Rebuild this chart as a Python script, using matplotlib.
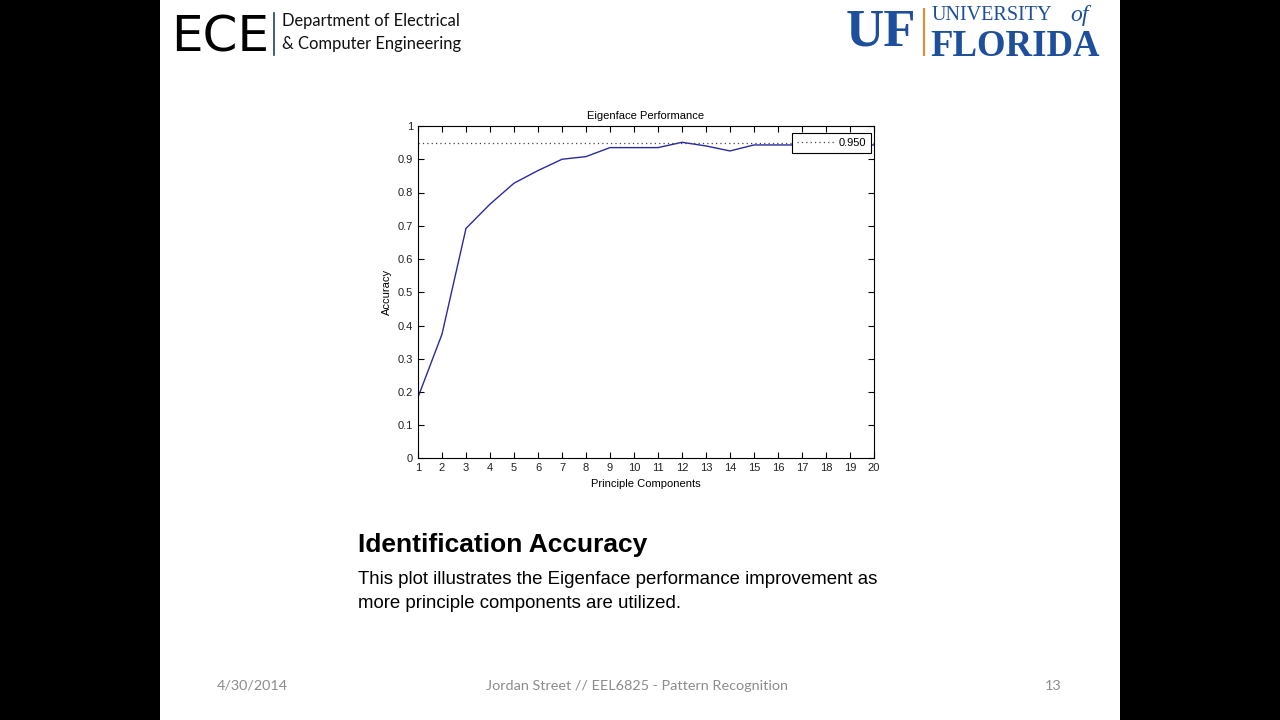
"""
Eigenface performance slide - accuracy vs number of principal components
"""

import matplotlib.pyplot as plt
import numpy as np
from matplotlib.patches import Rectangle

# data
components = [1, 2, 3, 4, 5, 6, 7, 8, 9, 10, 11, 12, 13, 14, 15, 16, 17, 18, 19, 20]
accuracy = [0.184, 0.374, 0.692, 0.765, 0.828, 0.866, 0.900, 0.908, 0.935, 0.935,
            0.935, 0.951, 0.940, 0.925, 0.943, 0.943, 0.943, 0.943, 0.943, 0.943]
threshold = 0.950
y_ticks = [0, 0.1, 0.2, 0.3, 0.4, 0.5, 0.6, 0.7, 0.8, 0.9, 1]
y_tick_labels = ['0', '0.1', '0.2', '0.3', '0.4', '0.5', '0.6', '0.7', '0.8', '0.9', '1']

W, H = 1280, 720
fig = plt.figure(figsize=(12.8, 7.2), dpi=100, facecolor='black')

# white slide area
bg = fig.add_axes([0, 0, 1, 1])
bg.set_xlim(0, W)
bg.set_ylim(H, 0)
bg.axis('off')
bg.add_patch(Rectangle((160, 0), 960, 720, facecolor='white', edgecolor='none'))

# ECE logo
bg.text(171, 37, 'ECE', fontsize=36, family='DejaVu Sans',
        color='black', ha='left', va='center')
bg.plot([274, 274], [13, 55], color='#1e3f5f', lw=1.2)
bg.text(282, 21, 'Department of Electrical', fontsize=11.9, family='Lato',
        color='#111111', ha='left', va='center')
bg.text(282, 44, '& Computer Engineering', fontsize=11.9, family='Lato',
        color='#111111', ha='left', va='center')

# UF logo
uf_blue = '#1d4f9c'
bg.text(846, 33, 'UF', fontsize=38, fontweight='bold', family='Liberation Serif',
        color=uf_blue, ha='left', va='center')
bg.plot([924, 924], [9, 55], color='#e88a2e', lw=1.5)
bg.text(932, 20.5, 'UNIVERSITY', fontsize=14.5, family='Liberation Serif',
        color=uf_blue, ha='left', va='baseline')
bg.text(1070, 20.5, 'of', fontsize=17, family='Liberation Serif', style='italic',
        color=uf_blue, ha='left', va='baseline')
bg.text(930, 56.5, 'FLORIDA', fontsize=26.5, fontweight='bold', family='Liberation Serif',
        color=uf_blue, ha='left', va='baseline')

# slide text
bg.text(358, 545, 'Identification Accuracy', fontsize=19, fontweight='bold',
        family='Liberation Sans', ha='left', va='center')
bg.text(358, 580, 'This plot illustrates the Eigenface performance improvement as',
        fontsize=13.4, family='Liberation Sans', ha='left', va='center')
bg.text(358, 603, 'more principle components are utilized.',
        fontsize=13.4, family='Liberation Sans', ha='left', va='center')

# footer
foot_col = '#8c8c8c'
bg.text(217, 686, '4/30/2014', fontsize=10.4, family='Lato', color=foot_col,
        ha='left', va='center')
bg.text(637, 686, 'Jordan Street // EEL6825 - Pattern Recognition', fontsize=10.4,
        family='Lato', color=foot_col, ha='center', va='center')
bg.text(1061, 686, '13', fontsize=10.4, family='Lato', color=foot_col,
        ha='right', va='center')

# main chart
left, right, top, bottom = 418, 874, 126, 458.5
ax = fig.add_axes([left / W, 1 - bottom / H, (right - left) / W, (bottom - top) / H])
ax.plot(components, accuracy, color='#2a2a9e', lw=1.0)
ax.axhline(threshold, color='#444444', lw=0.9, ls=(0, (1, 2.5)), label=f'{threshold:.3f}')
ax.set_xlim(1, 20)
ax.set_ylim(0, 1)
ax.set_xticks(components)
ax.set_yticks(y_ticks)
ax.set_yticklabels(y_tick_labels)
ax.tick_params(direction='in', top=True, right=True, length=4.5, width=0.8,
               labelsize=8, pad=3.5, colors='black')
for lab in ax.get_xticklabels() + ax.get_yticklabels():
    lab.set_family('Liberation Sans')
    lab.set_color('#222222')
for s in ax.spines.values():
    s.set_linewidth(0.8)
ax.set_title('Eigenface Performance', fontsize=8, pad=5, family='Liberation Sans')
ax.set_xlabel('Principle Components', fontsize=8, labelpad=4, family='Liberation Sans')
ax.set_ylabel('Accuracy', fontsize=8, labelpad=4, family='Liberation Sans')
leg = ax.legend(loc='upper right', bbox_to_anchor=(1 - 3 / 456, 1 - 7 / 332.5),
                prop={'family': 'Liberation Sans', 'size': 8}, frameon=True,
                fancybox=False, handlelength=3.4, handletextpad=0.3,
                borderpad=0.45, borderaxespad=0, framealpha=1)
leg.get_frame().set_edgecolor('black')
leg.get_frame().set_linewidth(0.8)

plt.savefig('out.png', dpi=100, facecolor='black')
